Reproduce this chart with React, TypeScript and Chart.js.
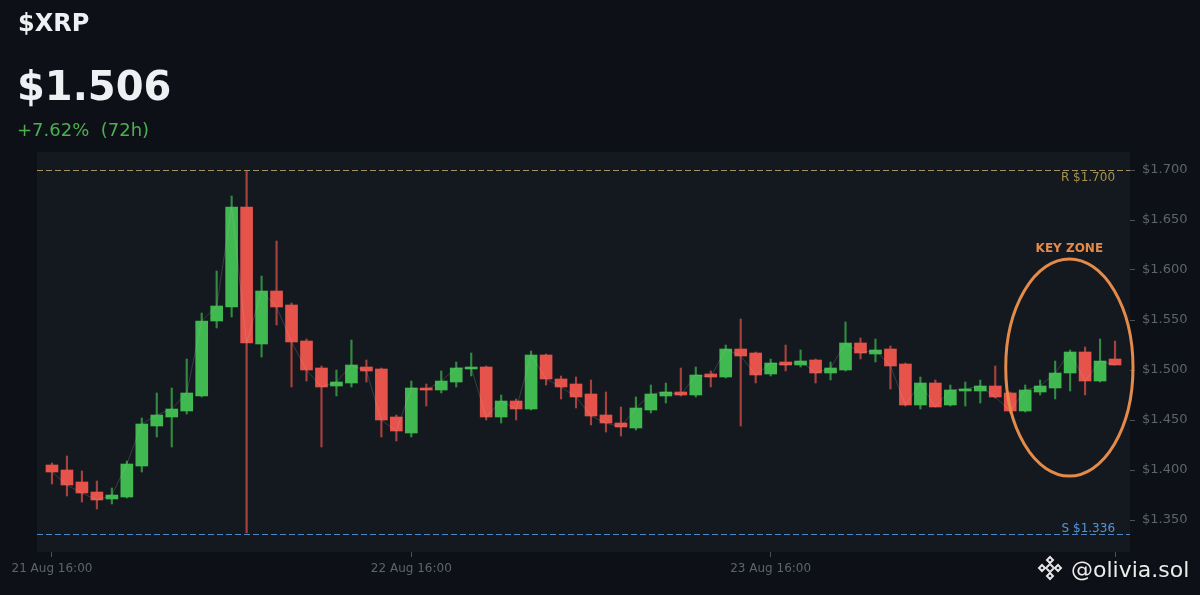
import { useEffect, useRef } from "react";
import { Chart, registerables } from "chart.js";

Chart.register(...registerables);

// ---- Data (hourly candles, 21 Aug 16:00 -> 24 Aug 15:00) ----
const opens = [
  1.405, 1.400, 1.388, 1.378, 1.371, 1.373, 1.404, 1.444, 1.453, 1.459,
  1.474, 1.549, 1.563, 1.663, 1.526, 1.579, 1.565, 1.529, 1.502, 1.484,
  1.487, 1.503, 1.501, 1.453, 1.437, 1.482, 1.480, 1.488, 1.501, 1.503,
  1.453, 1.469, 1.461, 1.515, 1.491, 1.486, 1.476, 1.455, 1.447, 1.442,
  1.460, 1.474, 1.478, 1.475, 1.496, 1.493, 1.521, 1.517, 1.496, 1.508,
  1.505, 1.510, 1.497, 1.500, 1.527, 1.516, 1.521, 1.506, 1.465, 1.487,
  1.465, 1.479, 1.479, 1.484, 1.477, 1.459, 1.478, 1.482, 1.497, 1.518,
  1.489, 1.511,
];
const highs = [
  1.407, 1.414, 1.399, 1.389, 1.382, 1.409, 1.452, 1.477, 1.482, 1.511,
  1.557, 1.599, 1.674, 1.699, 1.594, 1.629, 1.567, 1.531, 1.504, 1.500,
  1.530, 1.510, 1.502, 1.455, 1.489, 1.486, 1.499, 1.508, 1.517, 1.504,
  1.475, 1.471, 1.519, 1.516, 1.494, 1.493, 1.490, 1.478, 1.463, 1.473,
  1.485, 1.487, 1.502, 1.503, 1.499, 1.525, 1.551, 1.518, 1.511, 1.525,
  1.520, 1.511, 1.508, 1.548, 1.532, 1.531, 1.524, 1.507, 1.493, 1.490,
  1.485, 1.488, 1.490, 1.504, 1.478, 1.485, 1.490, 1.509, 1.520, 1.523,
  1.531, 1.529,
];
const lows = [
  1.386, 1.374, 1.368, 1.361, 1.366, 1.372, 1.398, 1.433, 1.423, 1.456,
  1.473, 1.542, 1.553, 1.337, 1.513, 1.545, 1.483, 1.489, 1.423, 1.474,
  1.483, 1.488, 1.433, 1.429, 1.433, 1.464, 1.477, 1.483, 1.494, 1.450,
  1.447, 1.450, 1.460, 1.485, 1.471, 1.462, 1.445, 1.438, 1.434, 1.440,
  1.457, 1.467, 1.474, 1.473, 1.483, 1.492, 1.444, 1.487, 1.494, 1.499,
  1.503, 1.487, 1.490, 1.499, 1.511, 1.508, 1.481, 1.464, 1.461, 1.463,
  1.464, 1.464, 1.467, 1.472, 1.457, 1.458, 1.475, 1.471, 1.479, 1.475,
  1.488, 1.505,
];
const closes = [
  1.398, 1.385, 1.377, 1.370, 1.375, 1.406, 1.446, 1.455, 1.461, 1.477,
  1.549, 1.564, 1.663, 1.527, 1.579, 1.563, 1.528, 1.500, 1.483, 1.488,
  1.505, 1.499, 1.450, 1.439, 1.482, 1.480, 1.489, 1.502, 1.502, 1.453,
  1.469, 1.461, 1.515, 1.491, 1.483, 1.473, 1.454, 1.447, 1.443, 1.462,
  1.476, 1.478, 1.475, 1.495, 1.493, 1.521, 1.514, 1.495, 1.507, 1.505,
  1.509, 1.497, 1.502, 1.527, 1.517, 1.520, 1.504, 1.465, 1.487, 1.463,
  1.480, 1.481, 1.484, 1.473, 1.459, 1.480, 1.484, 1.497, 1.518, 1.489,
  1.509, 1.505,
];

const xTickIndex = [0, 24, 48, 71];
const xTickLabels = ["21 Aug 16:00", "22 Aug 16:00", "23 Aug 16:00", ""];
const yTickValues = [1.35, 1.4, 1.45, 1.5, 1.55, 1.6, 1.65, 1.7];

const resistance = 1.7;
const support = 1.336;
const resistanceLabel = "R $1.700";
const supportLabel = "S $1.336";

const symbol = "$XRP";
const lastPrice = "$1.506";
const changeText = "+7.62%  (72h)";
const zoneText = "KEY ZONE";
const watermark = "@olivia.sol";

// key zone ellipse bounds, in data units (candle index / price)
const zoneX = [63.7, 72.2];
const zoneY = [1.394, 1.611];

const GREEN = "#3fb950";
const RED = "#e5534b";
const GREEN_W = "rgba(63,185,80,0.7)";
const RED_W = "rgba(229,83,75,0.7)";
const PAGE_BG = "#0d1017";
const PLOT_BG = "#14181f";
const FONT = "'DejaVu Sans', sans-serif";

export default function App() {
  const ref = useRef<HTMLCanvasElement | null>(null);

  useEffect(() => {
    document.body.style.margin = "0";
    document.body.style.background = PAGE_BG;
    const canvas = ref.current;
    if (!canvas) return;

    const up = closes.map((c, i) => c >= opens[i]);
    const bodyData = opens.map((o, i) => ({ x: i, y: [o, closes[i]] }));
    const wickData = lows.map((l, i) => ({ x: i, y: [l, highs[i]] }));
    const lineData = closes.map((c, i) => ({ x: i, y: c }));

    const decor = {
      id: "decor",
      beforeDraw(chart: any) {
        const { ctx, chartArea: a } = chart;
        ctx.save();
        ctx.fillStyle = PAGE_BG;
        ctx.fillRect(0, 0, chart.width, chart.height);
        ctx.fillStyle = PLOT_BG;
        ctx.fillRect(a.left, a.top, a.right - a.left, a.bottom - a.top);
        ctx.restore();
      },
      beforeDatasetsDraw(chart: any) {
        const { ctx, chartArea: a, scales } = chart;
        const y = scales.y;
        ctx.save();
        ctx.lineWidth = 1;
        ctx.setLineDash([6, 3]);
        const yr = Math.round(y.getPixelForValue(resistance)) + 0.5;
        ctx.strokeStyle = "#a4925f";
        ctx.beginPath();
        ctx.moveTo(a.left, yr);
        ctx.lineTo(a.right, yr);
        ctx.stroke();
        const ys = Math.round(y.getPixelForValue(support)) + 0.5;
        ctx.strokeStyle = "#4d86c6";
        ctx.beginPath();
        ctx.moveTo(a.left, ys);
        ctx.lineTo(a.right, ys);
        ctx.stroke();
        ctx.restore();
      },
      afterDraw(chart: any) {
        const { ctx, scales } = chart;
        const x = scales.x;
        const y = scales.y;
        ctx.save();
        // header
        ctx.textBaseline = "alphabetic";
        ctx.textAlign = "left";
        ctx.fillStyle = "#eef0f3";
        ctx.font = `bold 24px ${FONT}`;
        ctx.fillText(symbol, 18, 31);
        ctx.font = `bold 40px ${FONT}`;
        ctx.fillText(lastPrice, 17, 100);
        ctx.fillStyle = "#4caf50";
        ctx.font = `18px ${FONT}`;
        ctx.fillText(changeText, 17, 136);

        // level labels
        ctx.textAlign = "right";
        ctx.font = `12px ${FONT}`;
        ctx.fillStyle = "#a8924a";
        ctx.fillText(resistanceLabel, x.getPixelForValue(71), y.getPixelForValue(resistance) + 11);
        ctx.fillStyle = "#5596d8";
        ctx.fillText(supportLabel, x.getPixelForValue(71), y.getPixelForValue(support) - 2);

        // key zone ellipse
        const x0 = x.getPixelForValue(zoneX[0]);
        const x1 = x.getPixelForValue(zoneX[1]);
        const y0 = y.getPixelForValue(zoneY[1]);
        const y1 = y.getPixelForValue(zoneY[0]);
        const cx = (x0 + x1) / 2;
        const cy = (y0 + y1) / 2;
        ctx.strokeStyle = "#e38b4a";
        ctx.lineWidth = 3;
        ctx.beginPath();
        ctx.ellipse(cx, cy, (x1 - x0) / 2, (y1 - y0) / 2, 0, 0, Math.PI * 2);
        ctx.stroke();
        ctx.textAlign = "center";
        ctx.fillStyle = "#e38b4a";
        ctx.font = `bold 12px ${FONT}`;
        ctx.fillText(zoneText, cx, y0 - 7);

        // watermark
        ctx.textAlign = "left";
        ctx.fillStyle = "rgba(255,255,255,0.92)";
        ctx.shadowColor = "rgba(0,0,0,0.6)";
        ctx.shadowBlur = 2;
        ctx.font = `22px ${FONT}`;
        ctx.fillText(watermark, 1071, 577);
        // small logo
        ctx.strokeStyle = "rgba(255,255,255,0.9)";
        ctx.lineWidth = 2;
        const lx = 1050;
        const ly = 568;
        const d = (cxx: number, cyy: number, r: number) => {
          ctx.beginPath();
          ctx.moveTo(cxx, cyy - r);
          ctx.lineTo(cxx + r, cyy);
          ctx.lineTo(cxx, cyy + r);
          ctx.lineTo(cxx - r, cyy);
          ctx.closePath();
          ctx.stroke();
        };
        d(lx, ly, 4);
        d(lx, ly - 8, 3);
        d(lx, ly + 8, 3);
        d(lx - 8, ly, 3);
        d(lx + 8, ly, 3);
        ctx.restore();
      },
    };

    const chart = new Chart(canvas, {
      type: "bar",
      data: {
        datasets: [
          {
            type: "line",
            data: lineData as any,
            borderColor: "rgba(190,190,190,0.22)",
            borderWidth: 1,
            pointRadius: 0,
            order: 0,
          } as any,
          {
            type: "bar",
            data: bodyData as any,
            backgroundColor: up.map((u) => (u ? GREEN : RED)),
            barThickness: 12,
            minBarLength: 2,
            grouped: false,
            order: 1,
          } as any,
          {
            type: "bar",
            data: wickData as any,
            backgroundColor: up.map((u) => (u ? GREEN_W : RED_W)),
            barThickness: 1.5,
            grouped: false,
            order: 2,
          } as any,
        ],
      },
      options: {
        animation: false,
        responsive: false,
        devicePixelRatio: 1,
        layout: { padding: { left: 37, top: 152, right: 0, bottom: 0 } },
        plugins: {
          legend: { display: false },
          tooltip: { enabled: false },
        },
        scales: {
          x: {
            type: "linear",
            min: -1,
            max: 72,
            offset: false,
            afterBuildTicks: (s: any) => {
              s.ticks = xTickIndex.map((v) => ({ value: v }));
            },
            afterFit: (s: any) => {
              s.height = 43;
            },
            ticks: {
              autoSkip: false,
              maxRotation: 0,
              color: "#5d646e",
              font: { family: FONT, size: 12 },
              padding: 5,
              callback: (v: any) => {
                const k = xTickIndex.indexOf(Number(v));
                return k >= 0 ? xTickLabels[k] : "";
              },
            },
            grid: {
              offset: false,
              drawOnChartArea: false,
              tickColor: "#4a5058",
              tickLength: 5,
            },
            border: { display: false },
          },
          y: {
            type: "linear",
            position: "right",
            min: 1.318,
            max: 1.718,
            afterBuildTicks: (s: any) => {
              s.ticks = yTickValues.map((v) => ({ value: v }));
            },
            afterFit: (s: any) => {
              s.width = 70;
            },
            ticks: {
              color: "#5d646e",
              font: { family: FONT, size: 13 },
              padding: 7,
              callback: (v: any) => "$" + Number(v).toFixed(3),
            },
            grid: {
              drawOnChartArea: false,
              tickColor: "#4a5058",
              tickLength: 5,
            },
            border: { display: false },
          },
        },
      },
      plugins: [decor],
    } as any);

    return () => chart.destroy();
  }, []);

  return (
    <div
      style={{
        position: "fixed",
        left: 0,
        top: 0,
        width: 1200,
        height: 595,
        background: PAGE_BG,
      }}
    >
      <canvas ref={ref} width={1200} height={595} style={{ width: 1200, height: 595, display: "block" }} />
    </div>
  );
}
